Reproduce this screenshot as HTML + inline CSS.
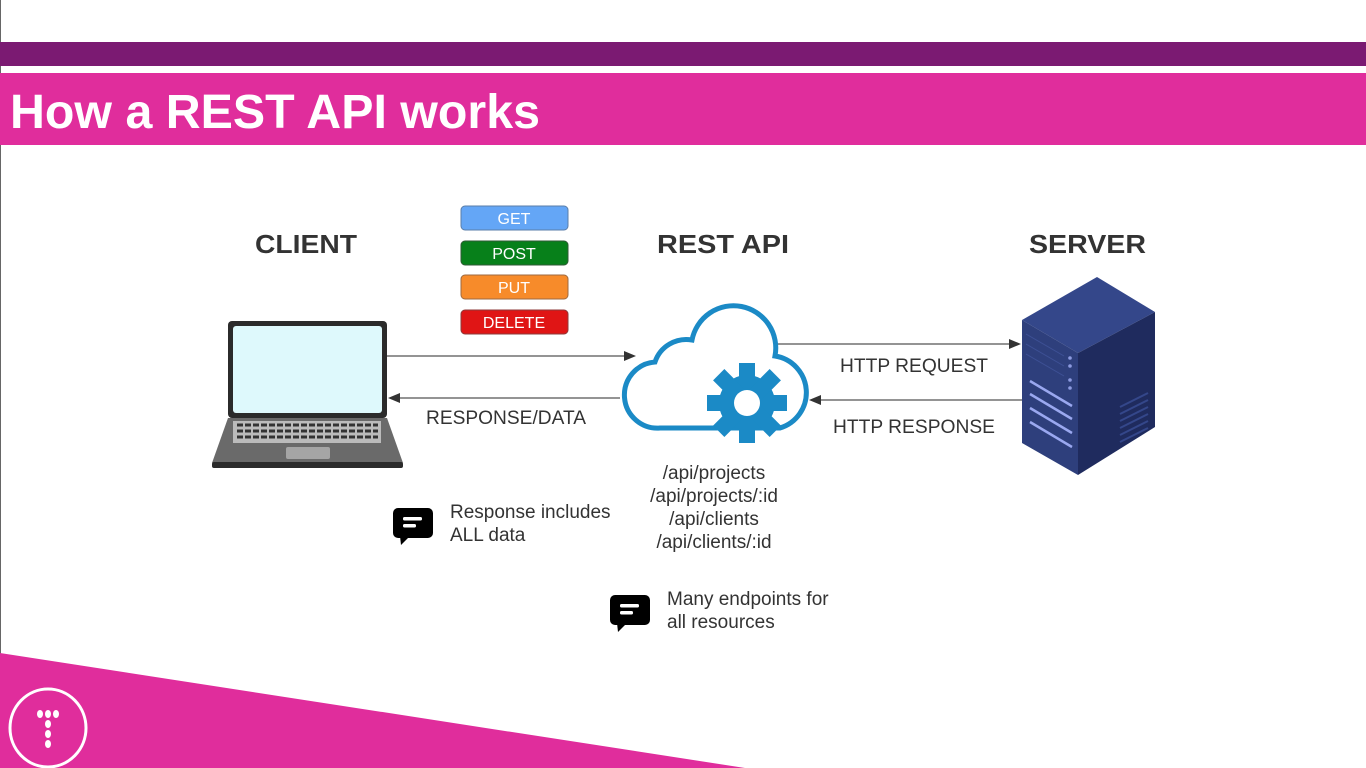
<!DOCTYPE html>
<html><head><meta charset="utf-8"><style>
html,body{margin:0;padding:0;background:#fff;}
svg{display:block;font-family:"Liberation Sans",Arial,sans-serif;}
</style></head><body>
<svg width="1366" height="768" viewBox="0 0 1366 768" xmlns="http://www.w3.org/2000/svg">
<rect x="0" y="0" width="1366" height="768" fill="#fff"/>
<line x1="0.5" y1="0" x2="0.5" y2="768" stroke="#666" stroke-width="1"/>
<rect x="0" y="42" width="1366" height="24" fill="#7b1a72"/>
<rect x="0" y="73" width="1366" height="72" fill="#e02d9c"/>
<text x="10" y="128" font-size="48" font-weight="bold" fill="#fff" textLength="530" lengthAdjust="spacingAndGlyphs">How a REST API works</text>

<polygon points="0,653 745,768 0,768" fill="#e02d9c"/>
<ellipse cx="48" cy="728" rx="38" ry="39" fill="none" stroke="#fff" stroke-width="3"/>
<g fill="#fff">
<ellipse cx="40" cy="714" rx="3" ry="4"/><ellipse cx="48" cy="714" rx="3" ry="4"/><ellipse cx="56" cy="714" rx="3" ry="4"/>
<ellipse cx="48" cy="724" rx="3" ry="4"/><ellipse cx="48" cy="734" rx="3" ry="4"/><ellipse cx="48" cy="744" rx="3" ry="4"/>
</g>

<g font-size="26" font-weight="bold" fill="#333">
<text x="255" y="253" textLength="102" lengthAdjust="spacingAndGlyphs">CLIENT</text>
<text x="657" y="253" textLength="132" lengthAdjust="spacingAndGlyphs">REST API</text>
<text x="1029" y="253" textLength="117" lengthAdjust="spacingAndGlyphs">SERVER</text>
</g>

<g font-size="16" fill="#fff" text-anchor="middle">
<rect x="461" y="206" width="107" height="24" rx="4" fill="#64a6f6" stroke="#5a7da8"/>
<text x="514" y="224">GET</text>
<rect x="461" y="241" width="107" height="24" rx="4" fill="#07801a" stroke="#2f5a35"/>
<text x="514" y="259">POST</text>
<rect x="461" y="275" width="107" height="24" rx="4" fill="#f78b2a" stroke="#9c6a40"/>
<text x="514" y="293">PUT</text>
<rect x="461" y="310" width="107" height="24" rx="4" fill="#e01515" stroke="#8c3a3a"/>
<text x="514" y="328">DELETE</text>
</g>

<!-- laptop -->
<rect x="228" y="321" width="159" height="97" rx="4" fill="#2b2b2b"/>
<rect x="233" y="326" width="149" height="87" rx="3" fill="#def9fc"/>
<polygon points="228,418 387,418 403,463 212,463" fill="#6a6a6a"/>
<rect x="212" y="462" width="191" height="6" rx="2" fill="#2b2b2b"/>
<rect x="233" y="421" width="148" height="22" fill="#bbb"/>
<g stroke="#333" stroke-width="3" stroke-dasharray="6,2">
<line x1="237" y1="425" x2="378" y2="425"/>
<line x1="237" y1="431" x2="378" y2="431"/>
<line x1="237" y1="437" x2="378" y2="437"/>
</g>
<rect x="286" y="447" width="44" height="12" rx="2" fill="#a5a5a5"/>

<!-- arrows -->
<g stroke="#555" stroke-width="1.3" fill="#333">
<line x1="387" y1="356" x2="626" y2="356"/>
<polygon points="636,356 624,351 624,361" stroke="none"/>
<line x1="399" y1="398" x2="620" y2="398"/>
<polygon points="388,398 400,393 400,403" stroke="none"/>
<line x1="775" y1="344" x2="1010" y2="344"/>
<polygon points="1021,344 1009,339 1009,349" stroke="none"/>
<line x1="820" y1="400" x2="1022" y2="400"/>
<polygon points="809,400 821,395 821,405" stroke="none"/>
</g>

<g font-size="19" fill="#333">
<text x="426" y="424" textLength="160" lengthAdjust="spacingAndGlyphs">RESPONSE/DATA</text>
<text x="840" y="372" textLength="148" lengthAdjust="spacingAndGlyphs">HTTP REQUEST</text>
<text x="833" y="433" textLength="162" lengthAdjust="spacingAndGlyphs">HTTP RESPONSE</text>
</g>

<!-- cloud -->
<path d="M660,428 L780,428 A37,37 0 0,0 775,356 A42,42 0 0,0 692,340 A33,33 0 0,0 655,362 A33,33 0 0,0 660,428 Z" fill="#fff" stroke="#1b8ac6" stroke-width="5"/>
<g fill="#1b8ac6" transform="translate(747,403)">
<circle r="28"/>
<rect x="-8" y="-40" width="16" height="80"/>
<rect x="-40" y="-8" width="80" height="16"/>
<rect x="-8" y="-40" width="16" height="80" transform="rotate(45)"/>
<rect x="-8" y="-40" width="16" height="80" transform="rotate(-45)"/>
<circle r="13" fill="#fff"/>
</g>

<!-- server -->
<polygon points="1022,320 1097,277 1155,312 1078,353" fill="#34478a"/>
<polygon points="1022,320 1078,353 1078,475 1022,443" fill="#2e3f7c"/>
<polygon points="1078,353 1155,312 1155,427 1078,475" fill="#1f2b5e"/>
<g stroke="#3e5196" stroke-width="1">
<line x1="1026" y1="334" x2="1064" y2="356"/><line x1="1026" y1="344" x2="1064" y2="366"/><line x1="1026" y1="354" x2="1064" y2="376"/>
</g>
<g stroke="#9aa8f0" stroke-width="2.5">
<line x1="1030" y1="381" x2="1072" y2="406"/>
<line x1="1030" y1="394" x2="1072" y2="419"/>
<line x1="1030" y1="408" x2="1072" y2="433"/>
<line x1="1030" y1="422" x2="1072" y2="447"/>
</g>
<g fill="#8d9be0"><circle cx="1070" cy="358" r="1.8"/><circle cx="1070" cy="366" r="1.8"/><circle cx="1070" cy="380" r="1.8"/><circle cx="1070" cy="388" r="1.8"/></g>
<g stroke="#34478a" stroke-width="2">
<line x1="1120" y1="407" x2="1148" y2="393"/><line x1="1120" y1="414" x2="1148" y2="400"/><line x1="1120" y1="421" x2="1148" y2="407"/><line x1="1120" y1="428" x2="1148" y2="414"/><line x1="1120" y1="435" x2="1148" y2="421"/><line x1="1120" y1="442" x2="1148" y2="428"/>
</g>

<g font-size="19" fill="#333" text-anchor="middle">
<text x="714" y="479">/api/projects</text>
<text x="714" y="502">/api/projects/:id</text>
<text x="714" y="525">/api/clients</text>
<text x="714" y="548">/api/clients/:id</text>
</g>

<!-- chat icons -->
<g>
<rect x="393" y="508" width="40" height="30" rx="5" fill="#000"/>
<polygon points="400,536 410,536 401,545" fill="#000"/>
<rect x="403" y="517" width="19" height="3.5" rx="1.5" fill="#fff"/>
<rect x="403" y="524" width="13" height="3.5" rx="1.5" fill="#fff"/>
</g>
<g>
<rect x="610" y="595" width="40" height="30" rx="5" fill="#000"/>
<polygon points="617,623 627,623 618,632" fill="#000"/>
<rect x="620" y="604" width="19" height="3.5" rx="1.5" fill="#fff"/>
<rect x="620" y="611" width="13" height="3.5" rx="1.5" fill="#fff"/>
</g>
<g font-size="19" fill="#333">
<text x="450" y="518">Response includes</text>
<text x="450" y="541">ALL data</text>
<text x="667" y="605">Many endpoints for</text>
<text x="667" y="628">all resources</text>
</g>
</svg>
</body></html>
